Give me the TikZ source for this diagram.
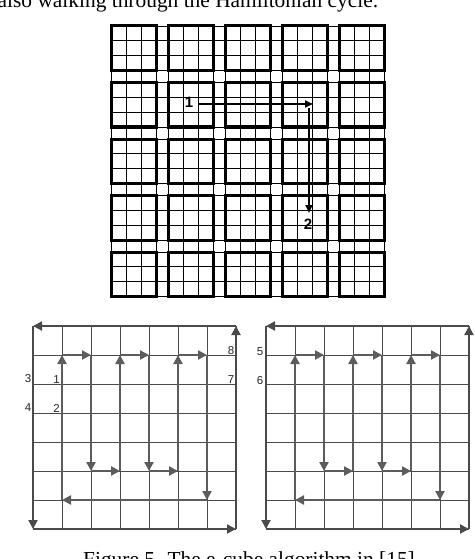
\documentclass[tikz,border=0pt]{standalone}
\usepackage{fontspec}
\setmainfont{Liberation Serif}
\newfontfamily\labfont{Liberation Sans}
\usetikzlibrary{arrows.meta}
\definecolor{arrowgray}{HTML}{5C5C5C}
\definecolor{gridgray}{HTML}{4A4A4A}
\begin{document}
\begin{tikzpicture}[x=1pt,y=-1pt,
  tline/.style={line width=0.8pt, black},
  blockbox/.style={line width=3pt, black},
  blackarrow/.style={line width=2pt, black, -{Triangle[length=8pt,width=7pt]}},
  gline/.style={line width=0.9pt, gridgray},
  snakearrow/.style={line width=2.6pt, arrowgray, -{Triangle[length=9pt,width=9pt]}},
  borderarrow/.style={line width=2pt, gridgray, -{Triangle[length=9pt,width=9pt]}},
  biglab/.style={font=\labfont\bfseries\fontsize{15}{15}\selectfont, inner sep=0pt},
  smalllab/.style={font=\labfont\fontsize{11.5}{11.5}\selectfont, inner sep=0pt, text=black!85},
  captext/.style={font=\fontsize{21.4}{24}\selectfont, inner sep=0pt, anchor=base west}
]
\useasboundingbox (0,0) rectangle (474,559);
\clip (0,0) rectangle (474,559);

% texts cut by the frame
\node[captext] (toptext) at (-2.5,7.5) {also walking through the Hamiltonian cycle.};
\node[captext] (caption) at (83,566.5) {Figure 5. The e-cube algorithm in [15]};

% ---------- top grid ----------
\foreach \i in {0,...,4} {
  \foreach \k in {0,1,2,3} {
    \draw[tline] ({111+57*\i+15*\k},26) -- ({111+57*\i+15*\k},296.5);
    \draw[tline] (111,{26+56.5*\i+14.833*\k}) -- (384,{26+56.5*\i+14.833*\k});
  }
}
\foreach \i in {0,...,4} {
  \foreach \j in {0,...,4} {
    \draw[blockbox] ({111+57*\i},{26+56.5*\j}) rectangle ++(45,44.5);
  }
}
\coordinate (ta) at (198,104);
\coordinate (tb) at (313,104);
\coordinate (tc) at (309,108);
\coordinate (td) at (309,213);
\draw[blackarrow] (ta) -- (tb);
\draw[blackarrow] (tc) -- (td);
\node[biglab] (one) at (189,102) {1};
\node[biglab] (two) at (308,224) {2};

% ---------- lower grids ----------
\foreach \i in {0,...,7} {
  \foreach \j in {0,...,7} {
    \coordinate (L-\i-\j) at ({33+29*\i},{326+29*\j});
    \coordinate (R-\i-\j) at ({266+29*\i},{326+29*\j});
  }
}
\foreach \g in {L,R} {
  \foreach \k in {0,...,7} {
    \draw[gline] (\g-\k-0) -- (\g-\k-7);
    \draw[gline] (\g-0-\k) -- (\g-7-\k);
  }
  \foreach \a/\b/\c/\d in {1/6/1/1, 1/1/2/1, 2/1/2/5, 2/5/3/5, 3/5/3/1, 3/1/4/1,
                           4/1/4/5, 4/5/5/5, 5/5/5/1, 5/1/6/1, 6/1/6/6, 6/6/1/6} {
    \draw[snakearrow] (\g-\a-\b) -- (\g-\c-\d);
  }
  \foreach \a/\b/\c/\d in {0/0/0/7, 0/7/7/7, 7/7/7/0, 7/0/0/0} {
    \draw[borderarrow] (\g-\a-\b) -- (\g-\c-\d);
  }
}

\node[smalllab] (l3) at (28,379) {3};
\node[smalllab] (l4) at (28,408) {4};
\node[smalllab] (l1) at (56.5,380) {1};
\node[smalllab] (l2) at (56.5,408) {2};
\node[smalllab] (l8) at (231,351) {8};
\node[smalllab] (l7) at (231,380) {7};
\node[smalllab] (l5) at (260,352) {5};
\node[smalllab] (l6) at (260,381) {6};
\end{tikzpicture}
\end{document}
